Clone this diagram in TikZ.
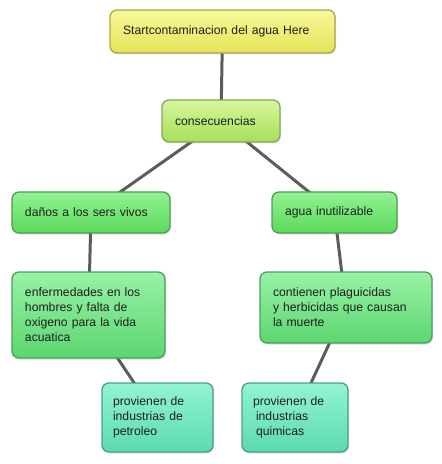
\documentclass[tikz,border=0pt]{standalone}
\usepackage{fontspec}
\setmainfont{Liberation Sans}
\usetikzlibrary{shadows,backgrounds}
\definecolor{linegray}{HTML}{5C5C5C}
\definecolor{txt}{HTML}{1E1E1E}
\definecolor{yTop}{HTML}{F8F89A}\definecolor{yBot}{HTML}{E4E458}\definecolor{yBrd}{HTML}{A8A848}
\definecolor{cTop}{HTML}{D6F69C}\definecolor{cBot}{HTML}{A6E058}\definecolor{cBrd}{HTML}{84A85A}
\definecolor{gTop}{HTML}{90F290}\definecolor{gBot}{HTML}{5CDA5C}\definecolor{gBrd}{HTML}{4E9E4E}
\definecolor{eTop}{HTML}{98F2A6}\definecolor{eBot}{HTML}{5CD670}\definecolor{eBrd}{HTML}{4E9E5E}
\definecolor{pTop}{HTML}{92F4D4}\definecolor{pBot}{HTML}{5CDAAE}\definecolor{pBrd}{HTML}{4E9E86}
\tikzset{
  box/.style={draw, line width=1.3bp, rounded corners=7bp, align=left,
    inner xsep=13bp, inner ysep=0bp, text=txt,
    font=\fontsize{12.2bp}{15bp}\selectfont,
    drop shadow={shadow xshift=1bp, shadow yshift=-1.5bp, opacity=0.25}},
  ybox/.style={box, draw=yBrd, top color=yTop, bottom color=yBot},
  cbox/.style={box, draw=cBrd, top color=cTop, bottom color=cBot},
  gbox/.style={box, draw=gBrd, top color=gTop, bottom color=gBot},
  ebox/.style={box, draw=eBrd, top color=eTop, bottom color=eBot},
  pbox/.style={box, draw=pBrd, top color=pTop, bottom color=pBot, inner xsep=11bp},
  conn/.style={draw=linegray, line width=3bp}
}
\begin{document}
\begin{tikzpicture}[x=1bp, y=-1bp]
\useasboundingbox (0,0) rectangle (442,464);
\node[ybox, text width=199bp, minimum height=43bp] (top) at (222.5,31.5) {Startcontaminacion del agua Here};
\node[cbox, text width=92bp, minimum height=42bp] (cons) at (221,121) {consecuencias};
\node[gbox, text width=132bp, minimum height=41bp] (danos) at (91,212.5) {daños a los sers vivos};
\node[gbox, text width=99bp, minimum height=41bp] (agua) at (334.5,212.5) {agua inutilizable};
\node[ebox, text width=127bp, minimum height=86bp] (enf) at (88.5,315) {enfermedades en los\\hombres y falta de\\oxigeno para la vida\\acuatica};
\node[ebox, text width=146bp, minimum height=71bp] (cont) at (346,307.5) {contienen plaguicidas\\y herbicidas que causan\\la muerte};
\node[pbox, text width=89bp, minimum height=69bp] (prov1) at (157.5,417.5) {provienen de\\industrias de\\petroleo};
\node[pbox, text width=84bp, minimum height=69bp] (prov2) at (295,417.5) {provienen de\\\hspace{3bp}industrias\\\hspace{3bp}quimicas};
\begin{scope}[on background layer]
\draw[conn] (top.center) -- (cons.center);
\draw[conn] (cons.center) -- (danos.center);
\draw[conn] (cons.center) -- (agua.center);
\draw[conn] (danos.center) -- (enf.center);
\draw[conn] (agua.center) -- (cont.center);
\draw[conn] (enf.center) -- (prov1.center);
\draw[conn] (cont.center) -- (prov2.center);
\end{scope}
\end{tikzpicture}
\end{document}
